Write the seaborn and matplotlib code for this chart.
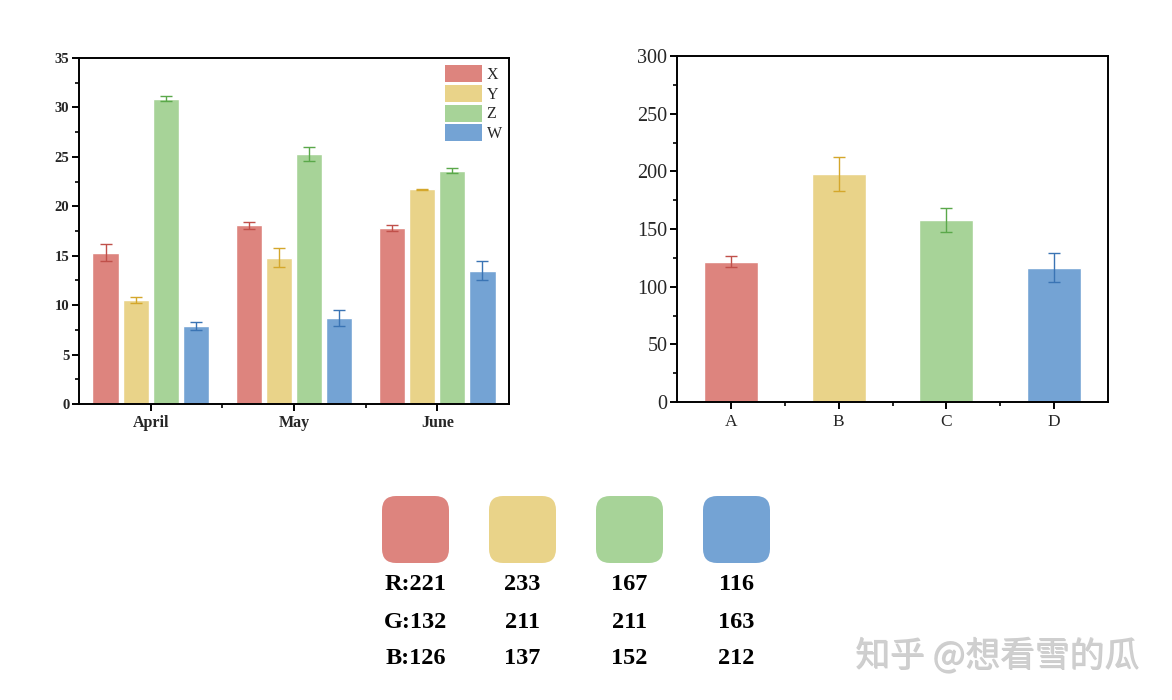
import numpy as np
import pandas as pd
import matplotlib
matplotlib.use("Agg")
import matplotlib.pyplot as plt
from matplotlib.patches import FancyBboxPatch, Patch
from matplotlib.ticker import MultipleLocator, FixedLocator
import seaborn as sns

# ---------------- data ----------------
months = ["April", "May", "June"]
series = ["X", "Y", "Z", "W"]
x_vals = [15.3, 18.1, 17.8]
y_vals = [10.5, 14.8, 21.7]
z_vals = [30.9, 25.3, 23.6]
w_vals = [7.9, 8.7, 13.5]
x_err = [0.85, 0.35, 0.32]
y_err = [0.30, 0.95, 0.08]
z_err = [0.27, 0.70, 0.27]
w_err = [0.40, 0.78, 0.93]

cats = ["A", "B", "C", "D"]
cat_vals = [121.7, 197.7, 158.0, 116.3]
cat_err = [4.5, 15.0, 10.5, 12.5]

palette = ["#DD847E", "#E9D389", "#A7D398", "#74A3D4"]
err_colors = ["#C0504A", "#D4A72C", "#5AA84A", "#3A74B4"]
rgb_r = ["R:221", "233", "167", "116"]
rgb_g = ["G:132", "211", "211", "163"]
rgb_b = ["B:126", "137", "152", "212"]

watermark = "知乎 @想看雪的瓜"

# ---------------- style ----------------
sns.set_theme(style="white")
plt.rcParams["font.family"] = ["Liberation Serif", "DejaVu Serif"]

fig = plt.figure(figsize=(11.72, 7.0), dpi=100)

# ---------------- left chart ----------------
df = pd.DataFrame({
    "month": np.repeat(months, len(series)).tolist(),
    "series": series * len(months),
    "value": [v for trio in zip(x_vals, y_vals, z_vals, w_vals) for v in trio],
})
errs = [x_err, y_err, z_err, w_err]

ax1 = fig.add_axes([79 / 1172, 1 - 404 / 700, 430 / 1172, 346 / 700])
sns.barplot(data=df, x="month", y="value", hue="series", order=months,
            hue_order=series, palette=palette, width=0.84, gap=0.13,
            errorbar=None, saturation=1, ax=ax1, legend=False)
bar_conts = list(ax1.containers)
for i, cont in enumerate(bar_conts):
    xs = [p.get_x() + p.get_width() / 2 for p in cont.patches]
    hs = [p.get_height() for p in cont.patches]
    ax1.errorbar(xs, hs, yerr=errs[i], fmt="none", ecolor=err_colors[i],
                 elinewidth=1.0, capsize=4, capthick=1.0, zorder=5)

ax1.set_xlim(-0.5, 2.5)
ax1.set_ylim(0, 35)
ax1.yaxis.set_major_locator(MultipleLocator(5))
ax1.yaxis.set_minor_locator(MultipleLocator(2.5))
ax1.xaxis.set_minor_locator(FixedLocator([0.5, 1.5]))
ax1.set_xlabel("")
ax1.set_ylabel("")
for s in ax1.spines.values():
    s.set_visible(True)
    s.set_linewidth(1.4)
    s.set_color("black")
ax1.tick_params(axis="both", which="major", direction="out", length=5,
                width=1.4, color="black", left=True, bottom=True)
ax1.tick_params(axis="both", which="minor", direction="out", length=3,
                width=1.2, color="black", left=True, bottom=True)
ax1.tick_params(axis="y", labelsize=10.5, pad=2)
ax1.tick_params(axis="x", labelsize=11.5, pad=3)
for lab in ax1.get_xticklabels() + ax1.get_yticklabels():
    lab.set_fontweight("bold")

handles = [Patch(facecolor=palette[i], edgecolor="none", label=series[i])
           for i in range(len(series))]
ax1.legend(handles=handles, loc="upper right", frameon=False,
           fontsize=11.5, handlelength=2.3, handleheight=1.25,
           labelspacing=0.12, handletextpad=0.3, borderaxespad=0.3,
           borderpad=0.15)

# ---------------- right chart ----------------
df2 = pd.DataFrame({"cat": cats, "value": cat_vals})
ax2 = fig.add_axes([677 / 1172, 1 - 402 / 700, 431 / 1172, 346 / 700])
sns.barplot(data=df2, x="cat", y="value", hue="cat", order=cats,
            hue_order=cats, palette=palette, width=0.5, errorbar=None,
            saturation=1, ax=ax2, legend=False)
bars = [p for c in list(ax2.containers) for p in c.patches]
bars = sorted(bars, key=lambda p: p.get_x())
for i, p in enumerate(bars):
    ax2.errorbar(p.get_x() + p.get_width() / 2, p.get_height(),
                 yerr=cat_err[i], fmt="none", ecolor=err_colors[i],
                 elinewidth=1.0, capsize=4, capthick=1.0, zorder=5)
ax2.set_xlim(-0.5, 3.5)
ax2.set_ylim(0, 300)
ax2.yaxis.set_major_locator(MultipleLocator(50))
ax2.yaxis.set_minor_locator(MultipleLocator(25))
ax2.xaxis.set_minor_locator(FixedLocator([0.5, 1.5, 2.5]))
ax2.set_xlabel("")
ax2.set_ylabel("")
for s in ax2.spines.values():
    s.set_visible(True)
    s.set_linewidth(1.4)
    s.set_color("black")
ax2.tick_params(axis="both", which="major", direction="out", length=5,
                width=1.4, color="black", left=True, bottom=True)
ax2.tick_params(axis="both", which="minor", direction="out", length=3,
                width=1.2, color="black", left=True, bottom=True)
ax2.tick_params(axis="y", labelsize=14.5, pad=2)
ax2.tick_params(axis="x", labelsize=12.5, pad=4)

# ---------------- colour swatches ----------------
sw = 67
for i, col in enumerate(palette):
    x0 = 382 + i * 107
    y0 = 496
    patch = FancyBboxPatch((x0 / 1172, 1 - (y0 + sw) / 700), sw / 1172, sw / 700,
                           boxstyle="round,pad=0,rounding_size=0.012",
                           transform=fig.transFigure, facecolor=col,
                           edgecolor="none", mutation_aspect=1172 / 700)
    fig.patches.append(patch)
    cx = (x0 + sw / 2) / 1172
    for row, txt in zip([584, 622, 659], [rgb_r[i], rgb_g[i], rgb_b[i]]):
        fig.text(cx, 1 - row / 700, txt, ha="center", va="center",
                 fontsize=17.5, fontweight="bold", color="black")

# ---------------- watermark ----------------
fig.text(856 / 1172, 1 - 656 / 700, watermark,
         family=["Noto Sans CJK SC", "DejaVu Sans"], fontsize=25,
         color="#9a9a9a", ha="left", va="center", alpha=0.5)
fig.text(855 / 1172, 1 - 655 / 700, watermark,
         family=["Noto Sans CJK SC", "DejaVu Sans"], fontsize=25,
         color="#cfcfcf", ha="left", va="center")

fig.savefig("out.png", dpi=100)
